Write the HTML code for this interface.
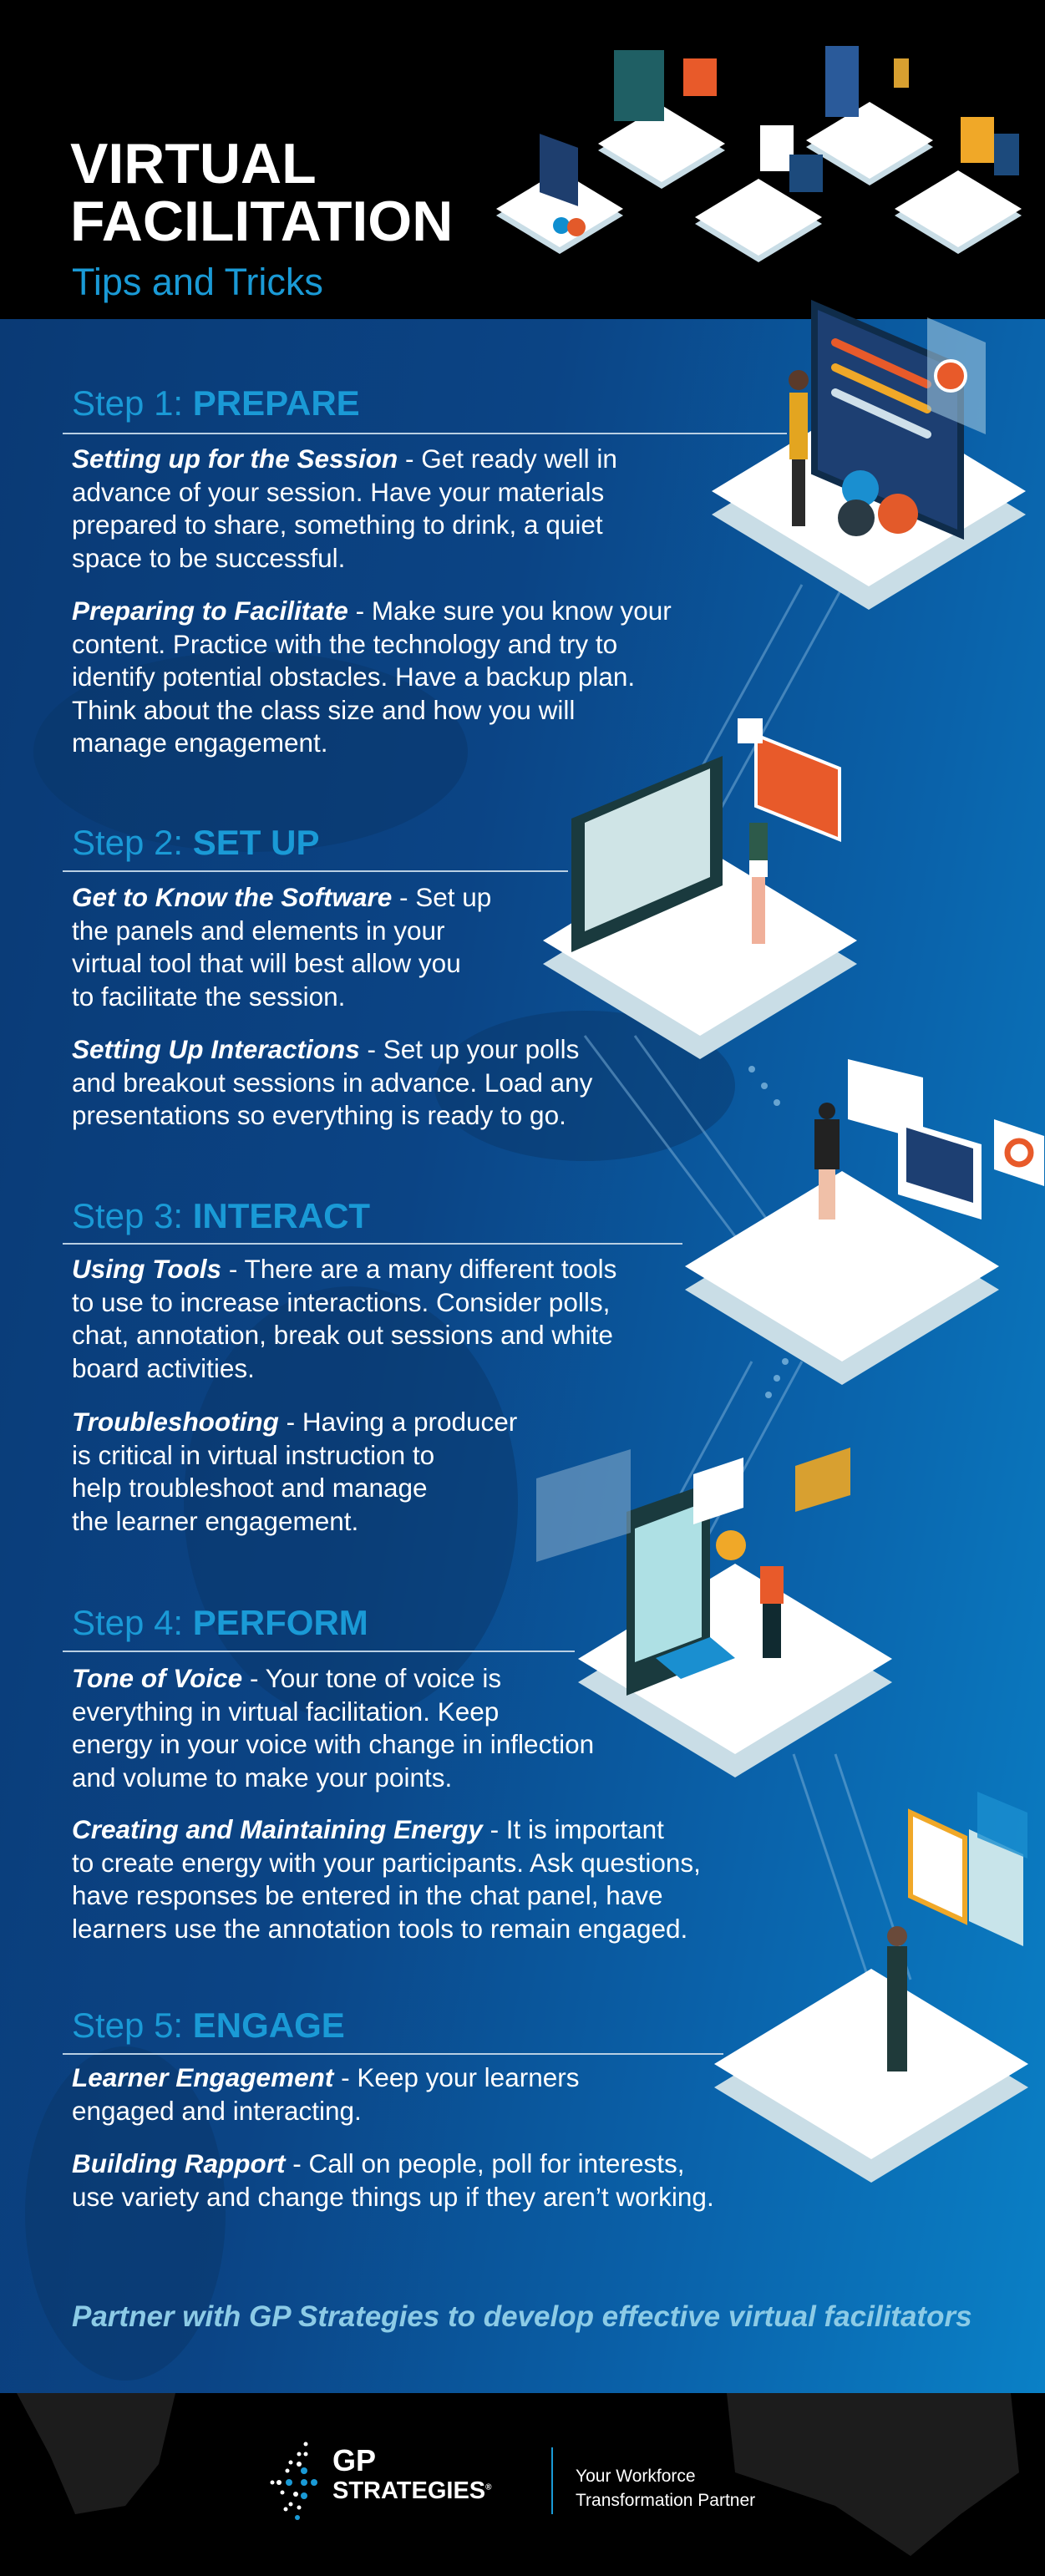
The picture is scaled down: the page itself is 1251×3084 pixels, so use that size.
<!DOCTYPE html>
<html><head><meta charset="utf-8">
<style>
*{margin:0;padding:0;box-sizing:border-box}
body{width:1251px;height:3084px;position:relative;overflow:hidden;font-family:"Liberation Sans",sans-serif;background:#000}
#hdr{position:absolute;left:0;top:0;width:1251px;height:382px;background:#000}
#main{position:absolute;left:0;top:382px;width:1251px;height:2483px;background:linear-gradient(100deg,#0a3a75 0%,#0b4485 40%,#0a62aa 72%,#0a80c6 100%)}
#ftr{position:absolute;left:0;top:2865px;width:1251px;height:219px;background:#000}
.t{position:absolute;left:86px;color:#fff;white-space:nowrap}
h1{position:absolute;left:84px;color:#fff;font-size:68px;font-weight:bold;line-height:1}
.tips{position:absolute;left:86px;top:312px;color:#1a9ad6;font-size:45px}
.step{position:absolute;left:86px;font-size:42px;color:#1a9ad6;line-height:1;white-space:nowrap}
.step b{color:#1a9ad6}
.rule{position:absolute;left:75px;height:2px;background:#b9cfe3}
.p{position:absolute;left:86px;color:#fff;font-size:31.5px;line-height:39.5px;white-space:nowrap}
.p b{font-style:italic}
</style></head><body>
<div id="hdr"></div>
<div id="main"></div>
<div id="ftr"></div>
<svg style="position:absolute;left:0;top:0" width="1251" height="3084">
 <g fill="#083566" opacity="0.45">
  <ellipse cx="300" cy="900" rx="260" ry="120"/>
  <ellipse cx="420" cy="1800" rx="200" ry="260"/>
  <ellipse cx="150" cy="2650" rx="120" ry="200"/>
  <ellipse cx="700" cy="1300" rx="180" ry="90"/>
 </g>
 <g fill="#1c1c1c">
  <path d="M20 2865 L210 2865 L190 2950 L150 3000 L90 3010 L60 2940Z"/>
  <path d="M870 2865 L1210 2865 L1220 2960 L1150 3010 L1090 3060 L1000 3000 L880 2960Z"/>
 </g>
 <g stroke="#7fb3db" stroke-width="3" fill="none" opacity="0.5">
  <path d="M960 700 L790 1010"/><path d="M1010 700 L840 1010"/>
  <path d="M700 1240 L940 1560"/><path d="M760 1240 L990 1560"/>
  <path d="M900 1630 L760 1890"/><path d="M960 1630 L820 1890"/>
  <path d="M950 2100 L1040 2370"/><path d="M1000 2100 L1090 2370"/>
 </g>
 <g fill="#8fc3e6" opacity="0.7">
  <circle cx="875" cy="1070" r="4"/><circle cx="865" cy="1090" r="4"/><circle cx="855" cy="1110" r="4"/>
  <circle cx="900" cy="1280" r="4"/><circle cx="915" cy="1300" r="4"/><circle cx="930" cy="1320" r="4"/>
  <circle cx="940" cy="1630" r="4"/><circle cx="930" cy="1650" r="4"/><circle cx="920" cy="1670" r="4"/>
 </g>
 <defs>
  <g id="plat">
   <path d="M0 14 L-188 -100 L0 -214 L188 -100 Z" fill="#c9dde6" transform="translate(0,14)"/>
   <path d="M0 0 L-188 -114 L0 -228 L188 -114 Z" fill="#ffffff"/>
  </g>
  <g id="sp">
   <path d="M0 8 L-76 -38 L0 -84 L76 -38 Z" fill="#c9dde6"/>
   <path d="M0 0 L-76 -46 L0 -92 L76 -46 Z" fill="#fff"/>
  </g>
 </defs>
 <use href="#sp" x="670" y="296"/>
 <use href="#sp" x="792" y="218"/>
 <use href="#sp" x="908" y="306"/>
 <use href="#sp" x="1041" y="214"/>
 <use href="#sp" x="1147" y="296"/>
 <g>
  <rect x="646" y="160" width="46" height="70" fill="#1e3e6e" transform="skewY(20) translate(0,-235)"/>
  <rect x="735" y="60" width="60" height="85" fill="#1f5f64"/>
  <rect x="818" y="70" width="40" height="45" fill="#e85a2a"/>
  <rect x="910" y="150" width="40" height="55" fill="#fff"/>
  <rect x="945" y="185" width="40" height="45" fill="#1c4a7c"/>
  <rect x="988" y="55" width="40" height="85" fill="#2a5a9a"/>
  <rect x="1070" y="70" width="18" height="35" fill="#d8a030"/>
  <rect x="1150" y="140" width="40" height="55" fill="#f0a828"/>
  <rect x="1190" y="160" width="30" height="50" fill="#1c4a7c"/>
  <circle cx="672" cy="270" r="10" fill="#0f8ed0"/><circle cx="690" cy="272" r="11" fill="#e35a2a"/>
 </g>
 <use href="#plat" x="1040" y="702"/>
 <use href="#plat" x="838" y="1240"/>
 <use href="#plat" x="1008" y="1630"/>
 <use href="#plat" x="880" y="2100"/>
 <use href="#plat" x="1043" y="2585"/>
 <path d="M975 365 L1150 440 L1150 640 L975 565Z" fill="#1d3f72" stroke="#0f2c4a" stroke-width="8"/>
 <path d="M1000 410 L1110 460" stroke="#e85a2a" stroke-width="10" stroke-linecap="round"/>
 <path d="M1000 440 L1110 490" stroke="#f0a828" stroke-width="10" stroke-linecap="round"/>
 <path d="M1000 470 L1110 520" stroke="#cfe0ea" stroke-width="10" stroke-linecap="round"/>
 <path d="M1110 380 L1180 410 L1180 520 L1110 490Z" fill="#9cc4de" opacity="0.6"/>
 <circle cx="1138" cy="450" r="18" fill="#e85a2a" stroke="#fff" stroke-width="4"/>
 <rect x="945" y="470" width="22" height="80" fill="#e3a520"/>
 <rect x="948" y="550" width="16" height="80" fill="#2a2a2a"/>
 <circle cx="956" cy="455" r="12" fill="#5a3a2a"/>
 <circle cx="1030" cy="585" r="22" fill="#1a8fd0"/><circle cx="1025" cy="620" r="22" fill="#2a3a44"/><circle cx="1075" cy="615" r="24" fill="#e35a2a"/>
 <path d="M684 980 L865 905 L865 1060 L684 1140Z" fill="#1a3a3e" />
 <path d="M700 985 L850 920 L850 1050 L700 1115Z" fill="#cfe4e6"/>
 <path d="M905 880 L1005 920 L1005 1005 L905 965Z" fill="#e85a2a" stroke="#fff" stroke-width="4"/>
 <rect x="883" y="860" width="30" height="30" fill="#fff"/>
 <rect x="897" y="985" width="22" height="45" fill="#2d5a4a"/><rect x="897" y="1030" width="22" height="20" fill="#fff"/>
 <rect x="900" y="1050" width="16" height="80" fill="#f0b09a"/>
 <path d="M1015 1268 L1105 1290 L1105 1365 L1015 1340Z" fill="#fff"/>
 <path d="M1075 1340 L1175 1370 L1175 1460 L1075 1430Z" fill="#fff"/>
 <path d="M1085 1350 L1165 1375 L1165 1440 L1085 1415Z" fill="#1d3f72"/>
 <path d="M1190 1340 L1250 1360 L1250 1420 L1190 1400Z" fill="#fff"/>
 <circle cx="1220" cy="1380" r="14" fill="none" stroke="#e85a2a" stroke-width="7"/>
 <rect x="975" y="1340" width="30" height="60" fill="#222"/><rect x="980" y="1400" width="20" height="60" fill="#f0c0a8"/>
 <circle cx="990" cy="1330" r="10" fill="#222"/>
 <path d="M750 1810 L850 1775 L850 1990 L750 2030Z" fill="#1a3a3e"/>
 <path d="M760 1830 L840 1800 L840 1960 L760 1990Z" fill="#aee0e4"/>
 <path d="M830 1765 L890 1745 L890 1805 L830 1825Z" fill="#fff"/>
 <path d="M642 1770 L755 1735 L755 1835 L642 1870Z" fill="#7fa6c8" opacity="0.6"/>
 <path d="M952 1755 L1018 1733 L1018 1790 L952 1810Z" fill="#d8a030"/>
 <circle cx="875" cy="1850" r="18" fill="#f0a828"/>
 <rect x="910" y="1875" width="28" height="45" fill="#e85a2a"/><rect x="913" y="1920" width="22" height="65" fill="#102a30"/>
 <path d="M785 1985 L850 1960 L880 1985 L815 2010Z" fill="#1a8fd0"/>
 <path d="M1090 2170 L1155 2200 L1155 2300 L1090 2270Z" fill="#fff" stroke="#f0a828" stroke-width="6"/>
 <path d="M1160 2190 L1225 2220 L1225 2330 L1160 2300Z" fill="#c8e4ea"/>
 <path d="M1170 2145 L1230 2170 L1230 2225 L1170 2200Z" fill="#1a8fd0" opacity="0.8"/>
 <rect x="1062" y="2330" width="24" height="150" fill="#1f3a3a"/>
 <circle cx="1074" cy="2318" r="12" fill="#6a4a3a"/>
</svg>

<h1 style="top:162px">VIRTUAL</h1>
<h1 style="top:231px">FACILITATION</h1>
<div class="tips">Tips and Tricks</div>

<div class="step" style="top:462px">Step 1: <b>PREPARE</b></div>
<div class="rule" style="top:518px;width:867px"></div>
<div class="p" style="top:530px"><b>Setting up for the Session</b> - Get ready well in<br>advance of your session. Have your materials<br>prepared to share, something to drink, a quiet<br>space to be successful.</div>
<div class="p" style="top:712px"><b>Preparing to Facilitate</b> - Make sure you know your<br>content. Practice with the technology and try to<br>identify potential obstacles. Have a backup plan.<br>Think about the class size and how you will<br>manage engagement.</div>

<div class="step" style="top:988px">Step 2: <b>SET UP</b></div>
<div class="rule" style="top:1042px;width:605px"></div>
<div class="p" style="top:1055px"><b>Get to Know the Software</b> - Set up<br>the panels and elements in your<br>virtual tool that will best allow you<br>to facilitate the session.</div>
<div class="p" style="top:1237px"><b>Setting Up Interactions</b> - Set up your polls<br>and breakout sessions in advance. Load any<br>presentations so everything is ready to go.</div>

<div class="step" style="top:1435px">Step 3: <b>INTERACT</b></div>
<div class="rule" style="top:1488px;width:742px"></div>
<div class="p" style="top:1500px"><b>Using Tools</b> - There are a many different tools<br>to use to increase interactions. Consider polls,<br>chat, annotation, break out sessions and white<br>board activities.</div>
<div class="p" style="top:1683px"><b>Troubleshooting</b> - Having a producer<br>is critical in virtual instruction to<br>help troubleshoot and manage<br>the learner engagement.</div>

<div class="step" style="top:1922px">Step 4: <b>PERFORM</b></div>
<div class="rule" style="top:1976px;width:613px"></div>
<div class="p" style="top:1990px"><b>Tone of Voice</b> - Your tone of voice is<br>everything in virtual facilitation. Keep<br>energy in your voice with change in inflection<br>and volume to make your points.</div>
<div class="p" style="top:2171px"><b>Creating and Maintaining Energy</b> - It is important<br>to create energy with your participants. Ask questions,<br>have responses be entered in the chat panel, have<br>learners use the annotation tools to remain engaged.</div>

<div class="step" style="top:2404px">Step 5: <b>ENGAGE</b></div>
<div class="rule" style="top:2458px;width:791px"></div>
<div class="p" style="top:2468px"><b>Learner Engagement</b> - Keep your learners<br>engaged and interacting.</div>
<div class="p" style="top:2571px"><b>Building Rapport</b> - Call on people, poll for interests,<br>use variety and change things up if they aren’t working.</div>

<div class="t" style="top:2754px;font-size:35px;font-style:italic;font-weight:bold;color:#8ccbe6">Partner with GP Strategies to develop effective virtual facilitators</div>

<svg style="position:absolute;left:318px;top:2922px" width="70" height="100">
 <g fill="#fff"><circle cx="48" cy="4" r="2.5"/><circle cx="40" cy="16" r="2.5"/><circle cx="48" cy="16" r="2.5"/><circle cx="30" cy="26" r="2.5"/><circle cx="40" cy="28" r="3"/><circle cx="26" cy="36" r="2.5"/><circle cx="8" cy="50" r="2.5"/><circle cx="16" cy="50" r="3"/><circle cx="20" cy="62" r="2.5"/><circle cx="36" cy="64" r="3"/><circle cx="30" cy="76" r="2.5"/><circle cx="40" cy="80" r="2.5"/><circle cx="24" cy="82" r="2.5"/></g>
 <g fill="#1a9ad6"><circle cx="46" cy="36" r="4"/><circle cx="28" cy="50" r="4"/><circle cx="46" cy="50" r="4"/><circle cx="58" cy="50" r="4"/><circle cx="46" cy="66" r="4"/><circle cx="38" cy="92" r="3"/></g>
</svg>
<div style="position:absolute;left:398px;top:2928px;color:#fff;font-weight:bold;font-size:36px;line-height:1">GP</div>
<div style="position:absolute;left:398px;top:2968px;color:#fff;font-weight:bold;font-size:29px;line-height:1">STRATEGIES<sup style="font-size:10px">®</sup></div>
<div style="position:absolute;left:660px;top:2930px;width:2px;height:80px;background:#1a9ad6"></div>
<div style="position:absolute;left:689px;top:2950px;color:#fff;font-size:21px;line-height:29px">Your Workforce<br>Transformation Partner</div>
</body></html>
